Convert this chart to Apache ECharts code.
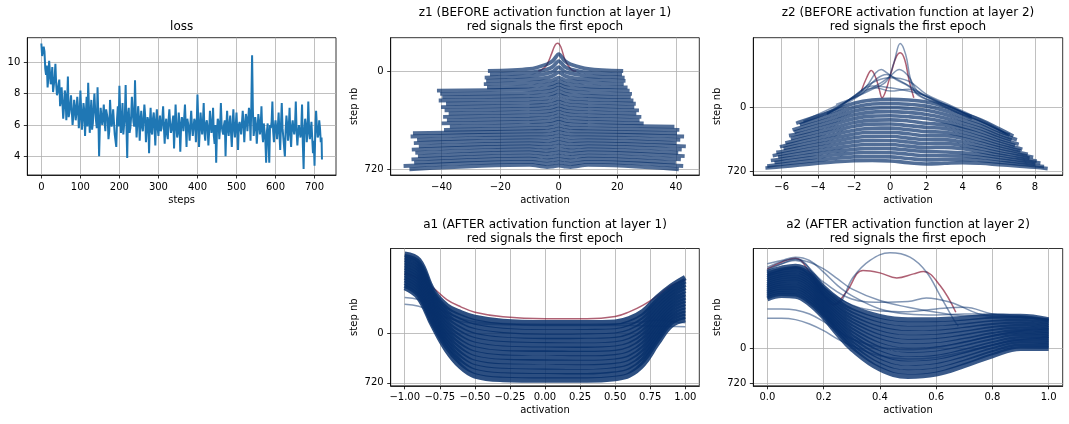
<!DOCTYPE html>
<html><head><meta charset="utf-8">
<script src="https://cdn.jsdelivr.net/npm/echarts@6/dist/echarts.min.js"></script>
<style>html,body{margin:0;padding:0;background:#fff}#c{width:1069px;height:424px}</style>
</head><body><div id="c"></div>
<script>
// ---------------- DATA ----------------
const lossSteps = [0,4,8,12,16,20,24,28,32,36,40,44,48,52,56,60,64,68,72,76,80,84,88,92,96,100,104,108,112,116,120,124,128,132,136,140,144,148,152,156,160,164,168,172,176,180,184,188,192,196,200,204,208,212,216,220,224,228,232,236,240,244,248,252,256,260,264,268,272,276,280,284,288,292,296,300,304,308,312,316,320,324,328,332,336,340,344,348,352,356,360,364,368,372,376,380,384,388,392,396,400,404,408,412,416,420,424,428,432,436,440,444,448,452,456,460,464,468,472,476,480,484,488,492,496,500,504,508,512,516,520,524,528,532,536,540,544,548,552,556,560,564,568,572,576,580,584,588,592,596,600,604,608,612,616,620,624,628,632,636,640,644,648,652,656,660,664,668,672,676,680,684,688,692,696,700,704,708,712,716,719];
const lossValues = [11.2,10.5,10.7,9.2,8.4,10.1,8.6,9.7,8.2,9.9,7.9,
 8.6,7.2,8.4,6.4,8.2,6.3,9.1,6.8,7.9,6.0,7.6,6.3,7.8,5.8,
 8.2,5.7,7.4,5.3,7.8,8.7,5.5,7.6,6.1,8.0,6.3,8.4,4.0,
 7.1,6.0,7.3,5.6,6.9,5.1,7.6,5.9,7.0,5.4,4.6,7.2,
 8.5,5.5,7.4,6.0,8.55,3.9,7.1,5.8,7.8,6.2,8.85,5.2,7.2,
 5.0,6.9,5.6,7.3,4.9,6.5,4.2,7.1,5.4,6.8,4.7,7.0,
 5.3,6.6,5.8,7.2,4.8,6.4,5.1,7.0,5.5,6.2,4.5,7.3,5.2,
 6.8,4.3,6.5,5.6,7.3,4.6,6.1,5.0,6.9,5.3,6.4,4.9,
 7.95,4.6,6.8,5.4,7.4,5.0,6.3,4.7,6.9,5.5,7.1,4.8,3.6,
 6.4,5.1,7.4,5.6,6.0,4.0,6.9,5.3,6.6,4.6,7.0,5.2,
 6.8,4.4,6.2,5.4,6.9,4.9,6.7,5.6,7.1,5.0,10.45,5.3,6.5,
 4.8,6.7,5.4,7.2,4.9,6.0,3.6,6.1,3.6,5.8,7.5,4.9,
 6.3,5.1,6.8,4.4,7.4,5.2,4.0,6.6,5.0,7.1,4.6,6.3,5.4,
 7.5,4.7,6.0,5.2,7.3,3.2,6.4,4.9,7.5,5.1,6.2,4.2,
 3.4,6.9,5.2,6.3,4.9,3.8];
const lossStepsMid = [2,6,10,14,18,22,26,30,34,38,42,46,50,54,58,62,66,70,74,78,82,86,90,94,98,102,106,110,114,118,122,126,130,134,138,142,146,150,154,158,162,166,170,174,178,182,186,190,194,198,202,206,210,214,218,222,226,230,234,238,242,246,250,254,258,262,266,270,274,278,282,286,290,294,298,302,306,310,314,318,322,326,330,334,338,342,346,350,354,358,362,366,370,374,378,382,386,390,394,398,402,406,410,414,418,422,426,430,434,438,442,446,450,454,458,462,466,470,474,478,482,486,490,494,498,502,506,510,514,518,522,526,530,534,538,542,546,550,554,558,562,566,570,574,578,582,586,590,594,598,602,606,610,614,618,622,626,630,634,638,642,646,650,654,658,662,666,670,674,678,682,686,690,694,698,702,706,710,714,718];
const lossValuesMid = [10.4,11.0,9.6,9.8,9.0,9.4,8.9,8.1,9.0,8.6,
 8.1,8.9,7.6,7.4,7.1,7.9,7.4,6.5,7.3,6.9,6.6,7.2,6.8,7.1,6.4,
 7.0,6.4,6.9,6.7,5.9,7.1,6.6,5.7,7.2,6.9,5.8,6.6,
 6.0,6.5,6.6,6.2,7.0,6.4,5.6,6.6,6.2,6.9,5.5,6.4,5.9,
 6.8,6.2,5.4,6.6,6.0,6.7,5.5,6.5,6.9,5.9,6.6,6.1,
 6.5,6.2,5.9,6.4,6.6,5.7,6.3,6.1,5.6,6.4,5.9,6.3,5.8,
 6.2,5.6,6.4,5.9,6.0,5.4,6.3,6.1,5.7,6.6,5.9,6.0,
 5.5,6.1,5.8,6.2,5.5,6.0,6.4,5.7,6.1,5.9,5.4,6.2,5.9,
 6.3,5.7,6.0,6.2,5.5,6.1,5.8,5.6,6.2,5.9,5.3,6.0,
 5.6,6.2,5.8,6.0,5.4,6.3,5.9,5.7,6.1,5.5,6.0,5.8,5.9,
 5.6,6.0,5.8,5.5,6.1,5.9,6.4,5.7,6.6,7.2,7.0,5.8,
 6.0,5.7,6.2,5.9,5.5,6.1,5.0,5.6,4.9,6.0,6.2,5.6,5.8,
 5.7,5.9,5.5,6.0,5.8,5.3,5.7,6.0,5.8,5.4,5.9,5.7,
 6.0,5.6,5.5,6.1,5.8,4.8,5.7,6.0,5.5,5.8,5.6,5.2,5.0,
 5.7,5.9,5.4,5.8,5.2];

// z1 ridgelines: step offsets, extents, values at shared x grid
const z1Steps = [0,24,48,72,96,120,144,168,192,216,240,264,288,312,336,360,384,408,432,456,480,504,528,552,576,600,624,648,672,696,720];
const z1Left = [-24.2,-23.5,-25.3,-24.8,-25.6,-24.5,-41.6,-40.5,-39.8,-41.0,-38.5,-40.2,-39.0,-37.6,-39.5,-38.2,-40.0,-37.2,-39.2,-49.8,-50.6,-48.4,-49.5,-47.8,-50.2,-49.0,-48.1,-50.3,-49.4,-53.0,-51.0];
const z1Right = [22.0,21.6,22.5,22.8,22.2,23.5,24.2,25.0,24.6,25.5,26.3,25.8,27.4,26.5,28.2,27.6,29.0,39.5,41.2,40.4,42.8,41.5,40.2,43.4,42.0,40.8,43.0,41.7,40.0,42.5,41.0];
const z1X = [-10,-4,-2,0,2,4,10];
const z1Rows = [
 [-15,-50,-75,-124,-75,-50,-15],
 [12,-12,-32,-72,-32,-12,12],
 [38,18,5,-28,5,18,38],
 [62,48,35,10,35,48,62],
 [87,75,66,48,66,75,87],
 [112,100,92,76,92,100,112],
 [135,125,116,100,116,125,135],
 [160,150,140,124,140,150,160],
 [184,175,166,150,166,175,184],
 [207,200,190,175,190,200,207],
 [231,224,216,202,216,224,231],
 [255,248,240,226,240,248,255],
 [278,272,265,252,265,272,278],
 [302,296,288,276,288,296,302],
 [326,320,313,300,313,320,326],
 [350,344,337,325,337,344,350],
 [373,368,361,350,361,368,373],
 [396,392,385,373,385,392,396],
 [420,416,410,398,410,416,420],
 [442,440,434,423,434,440,442],
 [464,464,458,448,458,464,464],
 [486,488,482,473,482,488,486],
 [508,512,506,498,506,512,508],
 [530,536,530,522,530,536,530],
 [552,560,555,547,555,560,552],
 [574,584,579,572,579,584,574],
 [596,608,603,596,603,608,596],
 [620,632,628,621,628,632,620],
 [643,656,652,646,652,656,643],
 [666,680,676,670,676,680,666],
 [688,704,700,694,700,704,688]
];
const z1Red = [[-7,-2],[-6,-7],[-4.1,-44],[-2.4,-129],[-1.25,-190],[-0.34,-203],[0.68,-178],[2.16,-81],[3.87,-20],[5,-2],[6,0]];

// z2 ridgelines
const z2X = [-6,-5,-4,-3,-2,-1,0,1,2,3,4,5,6,7,8];
const z2Left = [[-5.2,183],[-5.0,200],[-5.4,258],[-5.3,283],[-5.6,320],[-5.5,356],[-5.8,402],[-6.1,446],[-5.9,465],[-6.3,508],[-6.5,545],[-6.2,560],[-6.6,598],[-6.4,622],[-6.8,662],[-6.9,683]];
const z2Right = [[6.8,325],[6.6,315],[7.0,367],[6.7,370],[7.1,418],[6.9,430],[7.3,473],[7.2,490],[7.6,530],[7.9,562],[7.7,572],[8.1,605],[8.3,628],[8.0,639],[8.5,667],[8.7,690]];
const z2Rows = [
 [null,168,101,34,-41,-78,-86,-78,-56,-4,71,145,242,null,null],
 [null,null,136,73,2,-33,-40,-31,-10,38,108,177,269,null,null],
 [null,232,172,111,45,12,6,15,37,81,145,210,296,null,null],
 [null,264,207,150,87,57,52,62,83,123,181,242,323,null,null],
 [null,296,242,188,130,102,98,109,129,165,218,274,349,412,null],
 [null,328,277,227,173,147,144,156,182,200,245,307,376,null,null],
 [null,360,313,265,216,192,190,208,228,240,282,339,403,457,null],
 [441,392,348,304,259,237,236,255,275,282,318,371,430,480,null],
 [null,425,383,342,301,282,282,300,322,322,352,404,457,502,null],
 [498,457,418,381,344,327,328,348,366,365,392,436,484,525,null],
 [526,489,454,419,387,372,374,392,412,408,430,468,511,547,null],
 [554,521,489,458,430,417,420,438,456,452,468,501,538,570,602],
 [583,553,524,496,473,462,466,483,499,503,513,533,564,592,620],
 [611,585,560,535,515,507,512,529,546,546,549,565,591,615,null],
 [640,617,595,573,558,552,558,576,592,588,586,598,618,637,657],
 [668,649,630,612,601,597,604,623,638,630,623,630,645,660,675]
];
const z2Early = [
 [[-3,-30],[-2,-104],[-1,-198],[-0.2,-291],[0.2,-496],[0.55,-712],[0.85,-589],[1.1,-328],[1.4,-160],[2,-86],[3,-30],[4.5,101]],
 [[-4.8,157],[-3,-11],[-2,-104],[-1.3,-235],[-0.8,-384],[-0.5,-421],[-0.2,-384],[0.3,-310],[1,-235],[1.7,-123],[2.5,-48],[3.5,45],[5,160],[6.3,287]],
 [[-3.5,70],[-2.5,-48],[-1.5,-160],[-0.5,-272],[0,-347],[0.5,-421],[1,-347],[1.5,-179],[2.5,-67],[3.5,7],[4.5,120]],
 [[-4.8,170],[-3,7],[-2,-123],[-1,-272],[0,-328],[1,-291],[2,-142],[3,-48],[4,45],[5.5,190],[6.4,300]],
 [[-3.5,75],[-2.5,-30],[-1.5,-160],[-0.8,-310],[-0.2,-365],[0.4,-310],[1.2,-216],[2,-123],[3,-30],[4.5,115]],
 [[-5,190],[-3,26],[-2,-123],[-1,-235],[0,-216],[1,-179],[2,-123],[3,-30],[4,63],[5.5,210],[6.5,310]],
 [[-3.5,82],[-2.5,-48],[-1.5,-179],[-0.8,-216],[0,-179],[1,-198],[2,-116],[3,-11],[4.5,138]]
];
const z2Red = [[-1.6,-179],[-1.3,-330],[-1.05,-410],[-0.8,-328],[-0.6,-190],[-0.45,-104],[-0.25,-180],[0.1,-420],[0.35,-570],[0.55,-608],[0.8,-530],[1.05,-290],[1.3,-104]];

// a1 ridgelines
const a1X = [-1,-0.9,-0.8,-0.7,-0.6,-0.5,-0.3,0,0.3,0.5,0.6,0.7,0.8,0.9,1];
const a1Rows = [
 [-1158,-1070,-632,-404,-302,-234,-175,-156,-156,-165,-214,-321,-525,-691,-817],
 [-1120,-1028,-593,-354,-241,-168,-110,-92,-92,-102,-151,-262,-473,-647,-770],
 [-1083,-986,-553,-304,-181,-103,-45,-20,-27,-38,-87,-203,-422,-603,-723],
 [-1046,-944,-514,-255,-120,-37,20,45,37,25,-24,-143,-370,-560,-675],
 [-1008,-902,-474,-205,-59,28,86,102,102,88,39,-84,-318,-516,-628],
 [-971,-860,-435,-155,2,94,151,166,172,152,103,-25,-267,-472,-581],
 [-933,-818,-396,-105,63,160,216,231,231,215,166,34,-215,-428,-534],
 [-896,-777,-357,-56,123,224,280,285,294,277,228,93,-164,-385,-487],
 [-859,-735,-317,-6,183,290,345,359,359,341,292,152,-112,-341,-440],
 [-821,-693,-278,44,244,356,410,415,423,404,355,211,-61,-297,-393],
 [-784,-651,-238,94,305,421,476,488,488,467,418,270,-9,-253,-346],
 [-746,-609,-199,143,366,487,541,552,560,530,481,330,43,-210,-298],
 [-709,-567,-159,193,426,552,606,617,617,593,545,389,94,-166,-251],
 [-671,-525,-120,243,487,618,671,681,681,657,608,448,146,-122,-204]
];
const a1Outliers = [
 [-525,-496,-414,-302,-219,-170,-146,-136,-136,-141,-151,-170,-195,-175,-156],
 [-428,-399,-316,-234,-175,-146,-126,-117,-117,-117,-117,-112,-107,-102,-97]
];
const a1Red = [-876,-803,-671,-496,-389,-311,-243,-214,-214,-248,-316,-414,-545,-701,-778];

// a2 ridgelines
const a2X = [0,0.05,0.1,0.15,0.2,0.25,0.3,0.4,0.5,0.6,0.7,0.8,0.9,1.0];
const a2Rows = [
 [-1557,-1639,-1680,-1557,-1248,-1008,-837,-651,-583,-583,-610,-651,-651,-583],
 [-1515,-1596,-1632,-1507,-1200,-953,-771,-568,-493,-497,-535,-589,-600,-538],
 [-1472,-1552,-1585,-1457,-1153,-897,-705,-484,-403,-411,-460,-526,-550,-492],
 [-1430,-1509,-1537,-1406,-1105,-842,-639,-401,-314,-325,-385,-464,-499,-447],
 [-1388,-1466,-1490,-1356,-1058,-786,-573,-317,-224,-239,-310,-402,-448,-401],
 [-1346,-1423,-1442,-1306,-1010,-731,-507,-234,-134,-153,-235,-340,-398,-356],
 [-1303,-1379,-1395,-1256,-963,-675,-441,-151,-44,-66,-160,-277,-347,-310],
 [-1262,-1337,-1348,-1206,-916,-621,-375,-68,44,18,-87,-216,-297,-266],
 [-1219,-1293,-1301,-1156,-869,-565,-309,15,134,105,-12,-153,-246,-220],
 [-1177,-1250,-1253,-1106,-821,-510,-243,98,224,191,63,-91,-196,-175],
 [-1135,-1207,-1206,-1056,-774,-454,-177,182,314,277,138,-29,-145,-129],
 [-1093,-1164,-1158,-1005,-726,-399,-111,265,403,363,213,33,-94,-84],
 [-1050,-1120,-1111,-955,-679,-343,-45,349,493,449,288,96,-44,-38],
 [-1008,-1077,-1063,-905,-631,-288,21,432,583,535,363,158,7,7]
];
const a2Extra = [
 [[0,-1488],[0.1,-1659],[0.2,-1077],[0.246,-905],[0.305,-1454],[0.365,-1797],[0.436,-1954],[0.507,-1865],[0.566,-1557],[0.614,-1077],[0.661,-597],[0.679,-446]],
 [[0,-1591],[0.1,-1797],[0.2,-1351],[0.3,-1008],[0.4,-939],[0.5,-953],[0.565,-1029],[0.65,-939],[0.78,-665],[0.9,-631],[1.0,-562]],
 [[0,-1659],[0.1,-1831],[0.2,-1248],[0.3,-885],[0.4,-761],[0.5,-747],[0.6,-802],[0.7,-837],[0.8,-699],[0.9,-631],[1.0,-597]]
];
const a2Thin = [
 [-1728,-1797,-1865,-1797,-1557,-1282,-1077,-802,-699,-679,-699,-699,-665,-597],
 [-1625,-1728,-1817,-1762,-1625,-1419,-1214,-974,-837,-734,-665,-665,-651,-583],
 [-802,-802,-782,-699,-542,-357,-185,-14,34,-14,-117,-254,-357,-391],
 [-610,-610,-583,-494,-357,-185,-48,158,226,192,75,-62,-171,-219]
];
const a2Red = [[0,-1625],[0.05,-1762],[0.1,-1845],[0.15,-1557],[0.2,-1077],[0.235,-885],[0.28,-1145],[0.34,-1591],[0.4,-1543],[0.46,-1440],[0.52,-1522],[0.555,-1570],[0.614,-1282],[0.67,-734]];

// ticks
const lossXTicks = [0,100,200,300,400,500,600,700];
const lossYTicks = [4,6,8,10];
const z1XTicks = [-40,-20,0,20,40];
const z2XTicks = [-6,-4,-2,0,2,4,6,8];
const a1XTicks = [-1,-0.75,-0.5,-0.25,0,0.25,0.5,0.75,1];
const a2XTicks = [0,0.2,0.4,0.6,0.8,1];
const stepTicks = [0,720];

const titles = [
 [181.7,27.3,'loss'],
 [545,13.3,'z1 (BEFORE activation function at layer 1)'],[545,27.3,'red signals the first epoch'],
 [908,13.3,'z2 (BEFORE activation function at layer 2)'],[908,27.3,'red signals the first epoch'],
 [545,225,'a1 (AFTER activation function at layer 1)'],[545,239,'red signals the first epoch'],
 [908,225,'a2 (AFTER activation function at layer 2)'],[908,239,'red signals the first epoch']
];

// ---------------- CHART ----------------
const FONT = 'DejaVu Sans';
const NAVY = '#08306b';
const RED = 'rgba(130,10,40,0.65)';
const minus = s => String(s).replace('-', '\u2212');

const grids = [
 {left:27.3, top:37.7, width:308.7, height:137.3},
 {left:390.7, top:37.7, width:308.6, height:137.3},
 {left:753.3, top:37.7, width:309.4, height:137.3},
 {left:390.7, top:248.5, width:308.6, height:137.3},
 {left:753.3, top:248.5, width:309.4, height:137.3}
].map(g => Object.assign({show:true, borderColor:'#000', borderWidth:0.8, containLabel:false, outerBoundsMode:'none'}, g));

function axis(gi, min, max, ticks, fmt, name, isY, inverse) {
  return {
    type:'value', gridIndex:gi, min, max, inverse: !!inverse,
    name, nameLocation:'middle', nameGap: isY ? 31 : 20,
    nameTextStyle:{fontFamily:FONT, fontSize:10, color:'#000'},
    axisLine:{show:true, onZero:false, lineStyle:{color:'#000', width:0.8}},
    axisTick:{show:true, length:3.5, lineStyle:{color:'#000', width:0.8}, customValues:ticks},
    axisLabel:{show:true, customValues:ticks, formatter:fmt, fontFamily:FONT, fontSize:10, color:'#000', margin:7},
    splitLine:{show:true, lineStyle:{color:'#b0b0b0', width:0.8}}
  };
}
const xAxes = [
  axis(0, -36, 755, lossXTicks, v => String(v), 'steps'),
  axis(1, -57.4, 48, z1XTicks, v => minus(v), 'activation'),
  axis(2, -7.57, 9.53, z2XTicks, v => minus(v), 'activation'),
  axis(3, -1.1, 1.1, a1XTicks, v => minus(Number(v).toFixed(2)), 'activation'),
  axis(4, -0.05, 1.05, a2XTicks, v => Number(v).toFixed(1), 'activation')
];
const yAxes = [
  axis(0, 2.81, 11.57, lossYTicks, v => String(v), '', true),
  axis(1, -244, 762, stepTicks, v => String(v), 'step nb', true, true),
  axis(2, -776, 761, stepTicks, v => String(v), 'step nb', true, true),
  axis(3, -1241, 764, stepTicks, v => String(v), 'step nb', true, true),
  axis(4, -2043, 775, stepTicks, v => String(v), 'step nb', true, true)
];

const series = [];
function line(gi, data, color, width, opacity, smooth) {
  series.push({type:'line', xAxisIndex:gi, yAxisIndex:gi, data, showSymbol:false, symbol:'none',
    smooth: smooth === undefined ? 0.4 : smooth, silent:true, animation:false,
    lineStyle:{color, width, opacity}});
}
// loss: merge the two sampled sets in step order
const lossData = lossSteps.map((s,i) => [s, lossValues[i]])
  .concat(lossStepsMid.map((s,i) => [s, lossValuesMid[i]]))
  .sort((a,b) => a[0] - b[0]);
line(0, lossData, '#1f77b4', 2.0, 1, false);
// z1
line(1, z1Red, RED, 1.5, 1);
z1Steps.forEach((s,k) => {
  const d = [[z1Left[k], s]];
  z1X.forEach((x,j) => d.push([x, z1Rows[k][j]]));
  d.push([z1Right[k], s]);
  line(1, d, NAVY, 3.8, 0.7, 0.3);
});
// z2
line(2, z2Red, RED, 1.5, 1);
z2Rows.forEach((row,k) => {
  const d = [z2Left[k]];
  z2X.forEach((x,j) => { if (row[j] !== null) d.push([x, row[j]]); });
  d.push(z2Right[k]);
  line(2, d, NAVY, 3.6, 0.7);
});
z2Early.forEach(d => line(2, d, NAVY, 1.5, 0.5));
// a1
line(3, a1X.map((x,j) => [x, a1Red[j]]), RED, 1.5, 1);
a1Outliers.forEach(r => line(3, a1X.map((x,j) => [x, r[j]]), NAVY, 1.5, 0.5));
a1Rows.forEach(r => line(3, a1X.map((x,j) => [x, r[j]]), NAVY, 5.5, 0.85));
// a2
line(4, a2Red, RED, 1.5, 1);
a2Thin.forEach(r => line(4, a2X.map((x,j) => [x, r[j]]), NAVY, 1.5, 0.5));
a2Extra.forEach(d => line(4, d, NAVY, 1.5, 0.5));
a2Rows.forEach(r => line(4, a2X.map((x,j) => [x, r[j]]), NAVY, 5, 0.8));

const chart = echarts.init(document.getElementById('c'), null, {renderer:'canvas'});
chart.setOption({
  animation:false,
  backgroundColor:'#fff',
  textStyle:{fontFamily:FONT},
  grid: grids, xAxis: xAxes, yAxis: yAxes, series,
  graphic: titles.map(t => ({type:'text', x:t[0], y:t[1], silent:true,
    style:{text:t[2], fill:'#000', font:'12px "DejaVu Sans"', align:'center', verticalAlign:'middle', textAlign:'center', textVerticalAlign:'middle'}}))
});
</script></body></html>
